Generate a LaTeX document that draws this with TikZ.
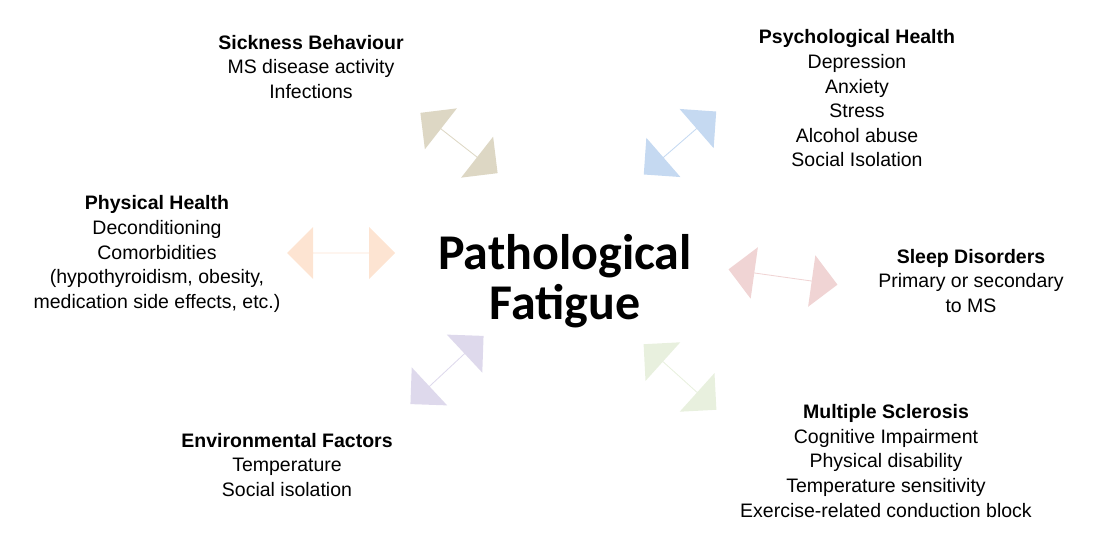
\documentclass[tikz,border=0pt]{standalone}
\usepackage{fontspec}
\setmainfont{Liberation Sans}
\newfontfamily\titlefont{Carlito}
\usetikzlibrary{shapes.arrows}
\definecolor{ctan}{RGB}{221,215,196}
\definecolor{cblue}{RGB}{197,217,241}
\definecolor{cpink}{RGB}{240,212,212}
\definecolor{cgreen}{RGB}{232,240,222}
\definecolor{clav}{RGB}{222,217,236}
\definecolor{cpeach}{RGB}{253,228,210}
\tikzset{
  lbl/.style={align=center,font=\fontsize{19.5}{24.6}\selectfont,inner sep=0pt},
  dbl/.style={double arrow,minimum width=52pt,minimum height=100pt,double arrow head extend=12pt,inner sep=0pt,draw=none,fill=#1},
}
\begin{document}
\begin{tikzpicture}[x=1pt,y=-1pt]
\useasboundingbox (0,0) rectangle (1098,543);
\node[lbl] (sick) at (311,67) {\textbf{Sickness Behaviour}\\MS disease activity\\Infections};
\node[lbl] (psy) at (857,98.5) {\textbf{Psychological Health}\\Depression\\Anxiety\\Stress\\Alcohol abuse\\Social Isolation};
\node[lbl] (phys) at (157,254) {\textbf{Physical Health}\\Deconditioning\\Comorbidities\\(hypothyroidism, obesity,\\medication side effects, etc.)};
\node[lbl] (sleep) at (971,281) {\textbf{Sleep Disorders}\\Primary or secondary\\to MS};
\node[lbl] (env) at (287,465) {\textbf{Environmental Factors}\\Temperature\\Social isolation};
\node[lbl] (ms) at (886,461) {\textbf{Multiple Sclerosis}\\Cognitive Impairment\\Physical disability\\Temperature sensitivity\\Exercise-related conduction block};
\node[align=center,font=\titlefont\bfseries\fontsize{50}{50}\selectfont,inner sep=0pt] (pf) at (565,281) {Pathological\\Fatigue};
\node[dbl=ctan,rotate=-38,minimum height=98pt] (a1) at (459,143) {};
\node[dbl=cblue,rotate=41,minimum height=96pt] (a2) at (680,143) {};
\node[dbl=cpink,rotate=-8,minimum height=110pt] (a3) at (783,277) {};
\node[dbl=cpeach,minimum height=108pt] (a4) at (341,253) {};
\node[dbl=clav,rotate=43,minimum height=100pt] (a5) at (447,370) {};
\node[dbl=cgreen,rotate=-42,minimum height=98pt] (a6) at (680,377) {};
\end{tikzpicture}
\end{document}
